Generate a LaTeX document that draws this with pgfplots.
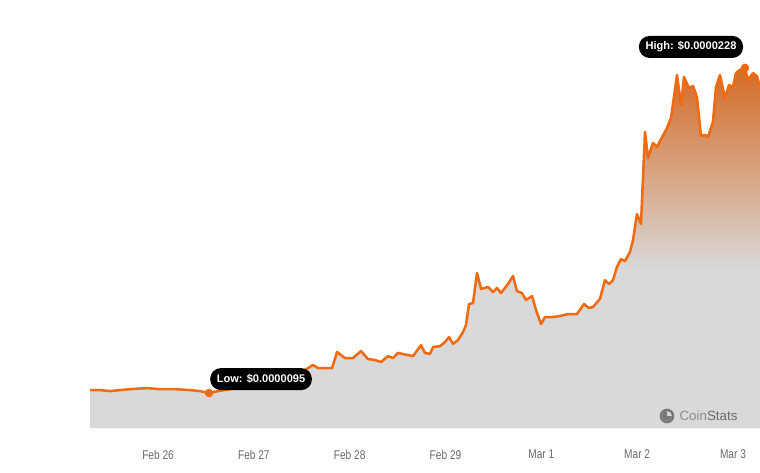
\documentclass[border=0pt]{standalone}
\usepackage{pgfplots}
\pgfplotsset{compat=1.18}
\usepackage{pgfplotstable}
\usepackage{fontspec}
\setmainfont{Liberation Sans}
\newfontfamily\labfont[FakeStretch=0.8]{Liberation Sans}

\definecolor{cline}{RGB}{240,106,16}
\definecolor{cgray}{RGB}{217,217,217}
\definecolor{ctop}{RGB}{214,106,36}
\definecolor{ctick}{RGB}{105,105,105}
\definecolor{clogo}{RGB}{120,120,120}
\pgfdeclareverticalshading{cfill}{100bp}{color(0bp)=(cgray); color(47bp)=(cgray); color(75bp)=(ctop); color(100bp)=(ctop)}

% price in units of 1e-6 USD, x in days from Feb 26
\pgfplotstableread{
x y
-0.710 9.62
-0.605 9.62
-0.501 9.58
-0.397 9.62
-0.292 9.66
-0.115 9.70
0.021 9.66
0.177 9.66
0.334 9.62
0.438 9.58
0.532 9.50
0.626 9.58
0.751 9.66
0.960 9.79
1.169 9.95
1.377 10.20
1.534 10.44
1.617 10.65
1.670 10.52
1.816 10.52
1.868 11.18
1.951 10.93
2.035 10.93
2.118 11.22
2.191 10.89
2.264 10.85
2.327 10.77
2.400 11.01
2.452 10.93
2.504 11.14
2.598 11.06
2.661 11.01
2.744 11.46
2.786 11.14
2.838 11.10
2.870 11.38
2.943 11.42
2.995 11.59
3.037 11.79
3.078 11.51
3.131 11.67
3.183 12.00
3.214 12.28
3.245 13.14
3.287 13.18
3.329 14.41
3.371 13.76
3.444 13.84
3.496 13.63
3.537 13.80
3.579 13.59
3.652 13.96
3.704 14.29
3.746 13.67
3.798 13.59
3.840 13.31
3.903 13.47
3.944 12.90
3.997 12.32
4.038 12.61
4.122 12.61
4.195 12.65
4.278 12.73
4.372 12.73
4.445 13.14
4.497 12.98
4.539 13.02
4.612 13.35
4.664 14.12
4.706 13.96
4.748 14.12
4.790 14.66
4.831 14.98
4.873 14.90
4.925 15.27
4.957 15.76
4.998 16.82
5.040 16.42
5.082 20.18
5.113 19.12
5.165 19.73
5.207 19.57
5.249 19.89
5.311 20.34
5.353 20.75
5.416 22.51
5.458 21.28
5.489 22.43
5.541 21.98
5.583 22.06
5.624 21.61
5.666 20.02
5.708 20.06
5.739 19.98
5.791 20.59
5.823 22.02
5.864 22.51
5.917 21.57
5.958 22.10
6.000 22.02
6.031 22.59
6.073 22.72
6.125 22.80
6.156 22.31
6.209 22.59
6.250 22.47
6.282 22.02
}\price

\begin{document}
\begin{tikzpicture}
\path[use as bounding box] (0,0) rectangle (570pt,354pt);
\begin{axis}[
    at={(67.5pt,33pt)}, anchor=south west,
    scale only axis,
    width=502.5pt, height=321pt,
    xmin=-0.71, xmax=6.282,
    ymin=8.07, ymax=25.58,
    axis line style={draw=none},
    major tick length=0pt,
    ytick=\empty,
    xtick={0,1,2,3,4,5,6},
    xticklabels={Feb 26,Feb 27,Feb 28,Feb 29,Mar 1,Mar 2,Mar 3},
    xticklabel style={font=\labfont\fontsize{9.5}{10}\selectfont, text=ctick, yshift=-13pt},
    clip=false,
]
\addplot[draw=none, fill=cgray, shading=cfill, shade] table[x=x,y=y]{\price}
    -- (axis cs:6.282,8.07) -- (axis cs:-0.71,8.07) -- cycle;
\addplot[cline, line width=1.9pt, line join=round] table[x=x,y=y]{\price};
\addplot[only marks, mark=*, mark size=3pt, cline] coordinates {(0.532,9.50) (6.125,22.80)};
\node[fill=black, text=white, rounded corners=8pt, inner xsep=5pt, inner ysep=0pt, minimum height=16.5pt,
      font=\bfseries\fontsize{8.3}{9}\selectfont] at (axis cs:5.562,23.66) {High: \$0.0000228};
\node[fill=black, text=white, rounded corners=8pt, inner xsep=5pt, inner ysep=0pt, minimum height=16.5pt,
      font=\bfseries\fontsize{8.3}{9}\selectfont] at (axis cs:1.075,10.07) {Low: \$0.0000095};
\end{axis}
% CoinStats mark
\fill[clogo] (500.25pt,42pt) circle (5.5pt);
\fill[cgray] (500.25pt,42pt) circle (3.7pt);
\fill[clogo] (500.25pt,42pt) -- (500.25pt,45.7pt) arc (90:360:3.7pt) -- cycle;
\node[anchor=west, inner sep=0pt, font=\fontsize{10}{11}\selectfont] at (509.5pt,42pt)
    {\textcolor{clogo!85}{Coin}\textcolor{clogo!110}{Stats}};
\end{tikzpicture}
\end{document}
